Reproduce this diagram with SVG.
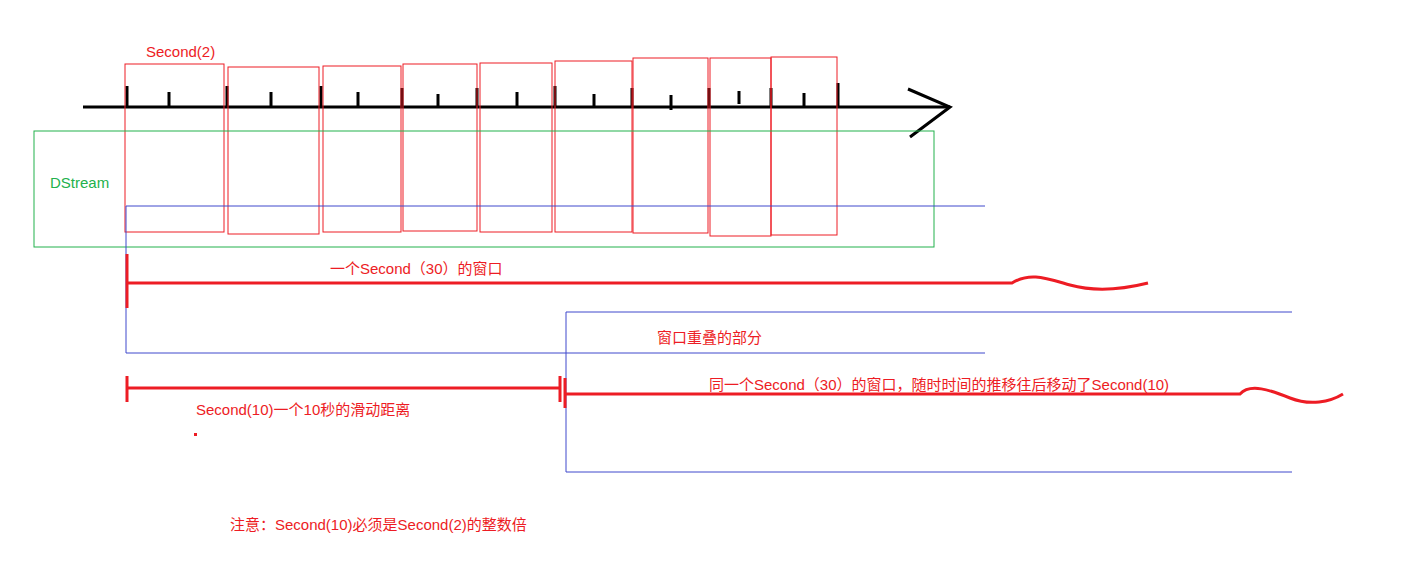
<svg xmlns="http://www.w3.org/2000/svg" width="1427" height="587" viewBox="0 0 1427 587">
<style>
.r{fill:none;stroke:#ed1c24;stroke-width:1}
.t{font-family:"Liberation Sans","Noto Sans CJK SC",sans-serif;font-size:15px;fill:#ed1c24}
.k{stroke:#000;stroke-width:3;fill:none}
.b{stroke:#3f48cc;stroke-width:1;fill:none}
.rl{stroke:#ed1c24;stroke-width:3;fill:none}
</style>
<rect width="1427" height="587" fill="#fff"/>
<g id="axis">
<line class="k" x1="83" y1="107" x2="950" y2="107"/>
<polyline class="k" points="908,89 950,107 910,137"/>
<path class="k" d="M127 86V108M227 86V108M321 86V108M402 88V108M477 88V108M555 86V108M632 88V108M709 88V108M771 88V108M838 83V108"/>
<path class="k" d="M169 92V107M271 92V107M358 92V107M438 94V107M517 92V107M594 94V107M671 95V110M739 91V104M804 93V107"/>
</g>
<g id="batches">
<rect class="r" x="125" y="64" width="99" height="168"/>
<rect class="r" x="228" y="67" width="91" height="167"/>
<rect class="r" x="323" y="66" width="78" height="166"/>
<rect class="r" x="403" y="64" width="74" height="167"/>
<rect class="r" x="480" y="63" width="72" height="169"/>
<rect class="r" x="555" y="61" width="77" height="171"/>
<rect class="r" x="633" y="58" width="75" height="175"/>
<rect class="r" x="710" y="58" width="61" height="178"/>
<rect class="r" x="771" y="57" width="66" height="178"/>
<text class="t" x="146" y="57">Second(2)</text>
</g>
<g id="dstream">
<rect x="34" y="131" width="900" height="116" fill="none" stroke="#22b14c"/>
<text class="t" x="50" y="188" style="fill:#22b14c">DStream</text>
</g>
<g id="connectors">
<path class="b" d="M985 206H126V353H985"/>
<path class="b" d="M1292 312H566V472H1292"/>
<path class="rl" d="M127 254V308M127 283H1012C1030 272 1045 278 1070 285S1120 290 1148 283"/>
<path class="rl" d="M127 376V402M127 388H560M560 376V402M565 378V408M565 394H1240C1250 383 1270 390 1290 398S1330 402 1343 394"/>
<rect x="194" y="433" width="3" height="3" fill="#ed1c24"/>
</g>
<g id="labels">
<text class="t" x="330" y="274">一个Second（30）的窗口</text>
<text class="t" x="657" y="343">窗口重叠的部分</text>
<text class="t" x="709" y="390">同一个Second（30）的窗口，随时时间的推移往后移动了Second(10)</text>
<text class="t" x="196" y="415">Second(10)一个10秒的滑动距离</text>
<text class="t" x="230" y="530">注意：Second(10)必须是Second(2)的整数倍</text>
</g>
</svg>
